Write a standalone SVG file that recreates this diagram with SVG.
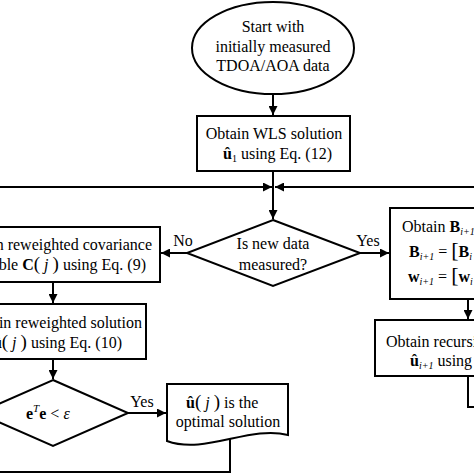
<svg xmlns="http://www.w3.org/2000/svg" width="474" height="474" viewBox="0 0 474 474">
<defs>
<marker id="ah" viewBox="0 0 10 10" refX="10" refY="5" markerWidth="10" markerHeight="9" markerUnits="userSpaceOnUse" orient="auto">
<path d="M0,0 L10,5 L0,10 Z" fill="#000"/>
</marker>
<style>
.s{fill:#fff;stroke:#000;stroke-width:2}
.c{fill:none;stroke:#000;stroke-width:2}
text{font-family:"Liberation Serif","Times New Roman",serif;font-size:16px;fill:#000}
.m{text-anchor:middle}
.e{text-anchor:end}
.b{font-weight:bold}
.i{font-style:italic}
.sub{font-size:10px;font-style:italic}
.p{font-size:19px;font-weight:normal}
</style>
</defs>
<rect width="474" height="474" fill="#fff"/>

<g id="connectors">
<path class="c" d="M273,94 V115" marker-end="url(#ah)"/>
<path class="c" d="M273,171 V219" marker-end="url(#ah)"/>
<path class="c" d="M0,187 H272" marker-end="url(#ah)"/>
<path class="c" d="M474,187 H275" marker-end="url(#ah)"/>
<path class="c" d="M187,253 H161" marker-end="url(#ah)"/>
<path class="c" d="M360,253 H389" marker-end="url(#ah)"/>
<path class="c" d="M53,282 V303" marker-end="url(#ah)"/>
<path class="c" d="M53,359 V379" marker-end="url(#ah)"/>
<path class="c" d="M128,413 H166" marker-end="url(#ah)"/>
<path class="c" d="M230,439 V472 H0"/>
<path class="c" d="M468,299 V319" marker-end="url(#ah)"/>
<path class="c" d="M468,376 V407 H474"/>
<text x="183" y="246" class="m">No</text>
<text x="368" y="246" class="m">Yes</text>
<text x="142" y="407" class="m">Yes</text>
</g>

<g id="start">
<ellipse class="s" cx="273" cy="48" rx="81" ry="46"/>
<text x="273" y="32" class="m">Start with</text>
<text x="273" y="52" class="m">initially measured</text>
<text x="273" y="71" class="m">TDOA/AOA data</text>
</g>

<g id="wls">
<rect class="s" x="197" y="116" width="153" height="55"/>
<text x="274" y="139" class="m">Obtain WLS solution</text>
<text x="223" y="159"><tspan class="b">û</tspan><tspan font-size="10" dy="3">1</tspan><tspan dy="-3"> using Eq. (12)</tspan></text>
</g>

<g id="newdata">
<path class="s" d="M273,220 L360,253 L273,286 L187,253 Z"/>
<text x="273" y="249" class="m">Is new data</text>
<text x="273" y="270" class="m">measured?</text>
</g>

<g id="covariance">
<rect class="s" x="-60" y="227" width="220" height="55"/>
<text x="152" y="250" class="e">Obtain reweighted covariance</text>
<text x="146" y="270" class="e">variable <tspan class="b">C</tspan><tspan class="p">(</tspan><tspan class="i"> j </tspan><tspan class="p">)</tspan> using Eq. (9)</text>
</g>

<g id="reweighted">
<rect class="s" x="-60" y="304" width="206" height="55"/>
<text x="142" y="328" class="e">Obtain reweighted solution</text>
<text x="122" y="348" class="e"><tspan class="b">û</tspan><tspan class="p">(</tspan><tspan class="i"> j </tspan><tspan class="p">)</tspan> using Eq. (10)</text>
</g>

<g id="converge">
<path class="s" d="M53,380 L128,413 L53,446 L-22,413 Z"/>
<text x="26" y="419" font-size="18"><tspan class="b">e</tspan><tspan class="i" font-size="11" dy="-7">T</tspan><tspan class="b" dy="7">e</tspan> &lt; <tspan class="i">ε</tspan></text>
</g>

<g id="optimal">
<path class="s" d="M167,384 H288 V435 C250,425 205,455 167,441 Z"/>
<text x="186" y="408"><tspan class="b">û</tspan><tspan class="p">(</tspan><tspan class="i"> j </tspan><tspan class="p">)</tspan> is the</text>
<text x="228" y="427" class="m">optimal solution</text>
</g>

<g id="update">
<rect class="s" x="390" y="208" width="120" height="91"/>
<text x="402" y="232">Obtain  <tspan class="b">B</tspan><tspan class="sub" dy="3">i+1</tspan></text>
<text x="409" y="257"><tspan class="b">B</tspan><tspan class="sub" dy="3">i+1</tspan><tspan dy="-3"> = </tspan><tspan font-size="22">[</tspan><tspan class="b">B</tspan><tspan class="sub" dy="3">i</tspan></text>
<text x="408" y="282"><tspan class="b">w</tspan><tspan class="sub" dy="3">i+1</tspan><tspan dy="-3"> = </tspan><tspan font-size="22">[</tspan><tspan class="b">w</tspan><tspan class="sub" dy="3">i</tspan></text>
</g>

<g id="recursive">
<rect class="s" x="375" y="320" width="140" height="56"/>
<text x="386" y="347">Obtain recursive</text>
<text x="410" y="366"><tspan class="b">û</tspan><tspan class="sub" dy="3">i+1</tspan><tspan dy="-3">  using</tspan></text>
</g>
</svg>
